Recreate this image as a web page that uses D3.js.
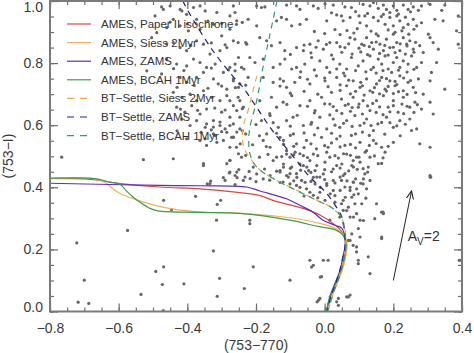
<!DOCTYPE html>
<html>
<head>
<meta charset="utf-8">
<script src="https://cdn.jsdelivr.net/npm/d3@7"></script>
<style>
  body { margin: 0; background: #fff; }
  #chart { width: 474px; height: 353px; }
  text { font-family: "Liberation Sans", Arial, sans-serif; fill: #333; }
  .axis path { display: none; }
  .axis line { stroke: #6e6e6e; stroke-width: 1.2; }
  .axis text { font-size: 14px; fill: #3a3a3a; }
  .axisLabel { font-size: 14px; fill: #3a3a3a; }
  .legend--label { font-size: 11.5px; fill: #333; }
</style>
</head>
<body>
<div id="chart"></div>
<script>
// observed sources, colour (753-770) vs (753-I)
const starsUpperLeft = [
  [-0.475,0.981],[-0.470,0.973],[-0.450,0.984],[-0.421,0.973],[-0.416,0.968],[-0.402,0.957],[-0.382,0.979],[-0.363,0.984],
  [-0.348,0.968],[-0.314,0.963],[-0.266,0.984],[-0.276,0.952],[-0.494,0.952],[-0.441,0.941],[-0.373,0.941],[-0.504,0.882],
  [-0.489,0.898],[-0.460,0.914],[-0.421,0.920],[-0.397,0.904],[-0.363,0.909],[-0.324,0.925],[-0.300,0.888],[-0.276,0.909],
  [-0.256,0.936],[-0.441,0.866],[-0.421,0.850],[-0.402,0.840],[-0.373,0.872],[-0.353,0.861],[-0.334,0.829],[-0.305,0.840],
  [-0.285,0.850],[-0.266,0.872],[-0.251,0.818],[-0.460,0.813],[-0.431,0.797],[-0.402,0.791],[-0.382,0.813],[-0.363,0.802],
  [-0.344,0.786],[-0.319,0.797],[-0.295,0.770],[-0.276,0.786],[-0.261,0.797],[-0.475,0.765],[-0.518,0.775],[-0.421,0.754],
  [-0.402,0.738],[-0.373,0.754],[-0.353,0.770],[-0.324,0.749],[-0.310,0.733],[-0.285,0.716],[-0.266,0.749],[-0.251,0.722],
  [-0.441,0.706],[-0.416,0.690],[-0.392,0.700],[-0.373,0.679],[-0.353,0.711],[-0.329,0.690],[-0.305,0.679],[-0.285,0.695],
  [-0.266,0.663],[-0.247,0.679],[-0.431,0.658],[-0.407,0.642],[-0.387,0.663],[-0.363,0.636],[-0.344,0.652],[-0.324,0.615],
  [-0.300,0.642],[-0.276,0.626],[-0.256,0.647],[-0.416,0.620],[-0.392,0.599],[-0.373,0.615],[-0.348,0.593],[-0.324,0.572],
  [-0.305,0.599],[-0.285,0.577],[-0.266,0.561],[-0.247,0.588],[-0.402,0.556],[-0.363,0.551],[-0.344,0.535],[-0.314,0.545],
  [-0.276,0.529],[-0.251,0.508],[-0.766,0.497],[-0.528,0.489],[-0.441,0.492],[-0.353,0.470],[-0.285,0.476],[-0.276,0.449],
  [-0.344,0.604],[-0.324,0.594],[-0.305,0.610],[-0.290,0.588],[-0.276,0.599],[-0.256,0.578],[-0.348,0.556],[-0.319,0.567],
  [-0.295,0.551],[-0.266,0.562],[-0.246,0.540],[-0.353,0.476],[-0.276,0.487],[-0.256,0.449],[-0.237,0.422],[-0.217,0.428],
  [-0.290,0.422],[-0.334,0.412],
  [-0.450,0.932],[-0.400,0.926],[-0.340,0.935],[-0.300,0.928],[-0.240,0.931],[-0.460,0.862],[-0.390,0.857],[-0.330,0.865],
  [-0.290,0.859],[-0.230,0.866],[-0.440,0.782],[-0.410,0.776],[-0.330,0.784],[-0.280,0.778],[-0.235,0.781],[-0.430,0.722],
  [-0.380,0.728],[-0.340,0.719],[-0.300,0.726],[-0.260,0.721],[-0.230,0.729],[-0.420,0.652],[-0.370,0.648],[-0.320,0.655],
  [-0.290,0.649],[-0.240,0.653],[-0.430,0.582],[-0.360,0.577],[-0.330,0.585],[-0.300,0.579],[-0.240,0.583]
];

const starsUpperRight = [
  [-0.261,0.963],[-0.198,0.984],[-0.184,0.979],[-0.174,0.981],[-0.111,0.987],[-0.082,0.984],[-0.072,0.973],[-0.033,0.984],
  [-0.019,0.976],[0.001,0.991],[0.025,0.987],[0.059,0.981],[0.078,0.979],[0.112,0.989],[0.132,0.984],[0.142,0.995],
  [0.156,0.976],[0.171,0.987],[0.180,0.973],[0.200,0.984],[0.210,0.970],[0.229,0.987],[0.243,0.973],[0.258,0.981],
  [0.273,0.970],[0.282,0.984],[0.307,0.989],[0.341,0.970],[0.350,0.987],[0.389,0.952],
  [-0.223,0.941],[-0.198,0.920],[-0.257,0.925],[-0.140,0.936],[-0.126,0.947],[-0.111,0.941],[-0.096,0.920],[-0.072,0.925],
  [-0.053,0.941],[0.006,0.936],[0.049,0.952],[0.054,0.936],[0.074,0.947],[0.103,0.930],[0.117,0.952],[0.122,0.920],
  [0.142,0.947],[0.156,0.936],[0.171,0.957],[0.176,0.925],[0.190,0.947],[0.200,0.920],[0.210,0.952],[0.219,0.936],
  [0.229,0.914],[0.243,0.925],[0.258,0.941],[0.268,0.920],[0.282,0.930],[0.302,0.893],[0.321,0.941],[0.345,0.936],[0.384,0.904],
  [-0.252,0.866],[-0.227,0.861],[-0.189,0.882],[-0.169,0.872],[-0.155,0.856],[-0.130,0.866],[-0.116,0.840],[-0.082,0.850],
  [-0.062,0.840],[-0.043,0.861],[-0.019,0.872],[-0.004,0.845],[0.015,0.866],[0.035,0.866],[0.059,0.850],[0.074,0.882],
  [0.088,0.877],[0.108,0.861],[0.122,0.882],[0.137,0.866],[0.142,0.845],[0.156,0.888],[0.161,0.861],[0.171,0.840],
  [0.180,0.877],[0.190,0.850],[0.200,0.893],[0.210,0.866],[0.219,0.840],[0.229,0.882],[0.239,0.861],[0.248,0.872],
  [0.258,0.845],[0.277,0.856],[0.287,0.834],[0.307,0.882],[0.316,0.866],[0.331,0.845],[0.389,0.861],
  [-0.261,0.775],[-0.242,0.786],[-0.218,0.818],[-0.203,0.802],[-0.179,0.813],[-0.150,0.786],[-0.130,0.797],[-0.116,0.813],
  [-0.096,0.781],[-0.082,0.786],[-0.058,0.797],[-0.038,0.818],[-0.014,0.807],[0.006,0.786],[0.025,0.813],[0.044,0.797],
  [0.064,0.781],[0.078,0.818],[0.098,0.791],[0.112,0.807],[0.132,0.823],[0.142,0.786],[0.156,0.813],[0.166,0.797],
  [0.176,0.823],[0.185,0.781],[0.200,0.802],[0.210,0.818],[0.219,0.786],[0.229,0.807],[0.243,0.797],[0.253,0.823],
  [0.268,0.786],[0.282,0.802],[0.326,0.802],[0.311,0.770],
  [-0.266,0.743],[-0.247,0.733],[-0.223,0.754],[-0.179,0.754],[-0.150,0.738],[-0.130,0.749],[-0.111,0.722],[-0.087,0.738],
  [-0.072,0.754],[-0.043,0.733],[-0.024,0.759],[0.001,0.743],[0.035,0.754],[0.059,0.759],[0.064,0.727],[0.083,0.743],
  [0.103,0.722],[0.122,0.749],[0.132,0.711],[0.151,0.733],[0.166,0.754],[0.176,0.716],[0.190,0.743],[0.205,0.727],
  [0.219,0.759],[0.229,0.711],[0.243,0.738],[0.258,0.722],[0.273,0.749],[0.287,0.700],[0.307,0.743],[0.350,0.716],
  [-0.276,0.679],[-0.252,0.690],[-0.237,0.658],[-0.189,0.679],[-0.155,0.690],[-0.140,0.658],[-0.121,0.674],[-0.096,0.695],
  [-0.072,0.663],[-0.043,0.679],[-0.028,0.647],[-0.009,0.690],[0.015,0.668],[0.035,0.647],[0.049,0.684],[0.069,0.668],
  [0.083,0.690],[0.098,0.658],[0.112,0.679],[0.132,0.647],[0.151,0.679],[0.171,0.695],[0.185,0.658],[0.200,0.679],
  [0.214,0.642],[0.229,0.690],[0.248,0.658],[0.263,0.674],[0.282,0.652],[0.307,0.674],[0.316,0.636]
];

const starsCluster = [
  [0.020,0.962],[0.035,0.955],[0.090,0.966],[0.100,0.952],[0.125,0.960],[0.165,0.950],[0.190,0.963],[0.215,0.958],[0.235,0.948],[0.250,0.965],
  [-0.030,0.902],[0.000,0.895],[0.030,0.908],[0.045,0.892],[0.065,0.905],[0.085,0.897],[0.095,0.911],[0.135,0.903],[0.150,0.894],[0.185,0.907],
  [0.205,0.899],[0.225,0.904],[0.245,0.893],[0.260,0.909],
  [-0.060,0.858],[-0.025,0.851],[0.005,0.860],[0.045,0.853],[0.070,0.862],[0.100,0.848],[0.115,0.857],[0.130,0.853],[0.150,0.868],[0.175,0.857],
  [0.200,0.851],[0.220,0.862],[0.240,0.855],[0.265,0.867],
  [-0.100,0.828],[-0.040,0.833],[0.020,0.826],[0.050,0.835],[0.080,0.829],[0.105,0.836],[0.125,0.827],[0.160,0.831],[0.185,0.826],[0.205,0.834],
  [0.235,0.829],[0.260,0.835],
  [-0.070,0.772],[-0.030,0.778],[0.015,0.770],[0.035,0.781],[0.055,0.768],[0.090,0.776],[0.120,0.772],[0.135,0.779],[0.150,0.768],[0.170,0.776],
  [0.195,0.770],[0.215,0.777],[0.240,0.771],[0.260,0.780],
  [-0.120,0.742],[-0.050,0.748],[0.000,0.752],[0.070,0.745],[0.105,0.738],[0.160,0.744],[0.180,0.750],[0.205,0.741],[0.230,0.752],[0.250,0.744],
  [-0.100,0.703],[-0.060,0.709],[-0.020,0.700],[0.020,0.706],[0.045,0.712],[0.075,0.701],[0.090,0.709],[0.115,0.697],[0.140,0.706],[0.160,0.701],
  [0.180,0.710],[0.200,0.702],[0.215,0.708],[0.240,0.699],[0.265,0.705],
  [-0.130,0.726],[0.010,0.724],[0.045,0.730],[0.110,0.727],[0.145,0.721],[0.185,0.725],[0.210,0.731],
  [-0.110,0.667],[-0.050,0.661],[0.000,0.669],[0.025,0.660],[0.060,0.664],[0.080,0.657],[0.100,0.668],[0.125,0.662],[0.140,0.670],[0.160,0.659],
  [0.200,0.663],[0.225,0.668],[0.240,0.661],[0.270,0.666],
  [-0.160,0.637],[-0.080,0.632],[-0.030,0.640],[0.015,0.633],[0.050,0.638],[0.075,0.645],[0.110,0.636],[0.150,0.641],[0.170,0.634],[0.190,0.643],
  [0.230,0.637],[0.260,0.641],
  [-0.200,0.602],[-0.150,0.608],[-0.100,0.597],[-0.040,0.603],[-0.020,0.591],[0.030,0.600],[0.055,0.606],[0.080,0.596],[0.115,0.607],[0.135,0.599],
  [0.155,0.604],[0.190,0.608],[0.210,0.598],[0.235,0.603],
  [-0.230,0.572],[-0.190,0.566],[-0.140,0.574],[-0.100,0.567],[-0.060,0.575],[-0.030,0.569],[0.020,0.574],[0.045,0.565],[0.090,0.572],[0.110,0.578],
  [0.130,0.567],[0.175,0.571],[0.220,0.566],
  [-0.210,0.537],[-0.170,0.531],[-0.120,0.539],[-0.090,0.532],[-0.060,0.528],[-0.040,0.540],[0.000,0.534],[0.020,0.543],[0.045,0.530],[0.075,0.538],
  [0.090,0.527],[0.130,0.535],[0.150,0.541],[0.185,0.532],
  [-0.230,0.503],[-0.190,0.497],[-0.165,0.506],[-0.125,0.499],[-0.090,0.505],[-0.050,0.496],[-0.020,0.502],[0.040,0.494],[0.075,0.503],[0.100,0.497],
  [0.145,0.501],[0.170,0.495],
  [-0.250,0.457],[-0.220,0.451],[-0.175,0.459],[-0.140,0.452],[-0.100,0.461],[-0.070,0.455],[-0.040,0.448],[0.000,0.457],[0.020,0.450],[0.045,0.462],
  [0.070,0.453],[0.095,0.458],[0.125,0.449],
  [-0.200,0.418],[-0.160,0.423],[-0.130,0.416],[-0.090,0.421],[-0.040,0.419],[0.000,0.425],[0.030,0.414],[0.065,0.421],[0.090,0.427],[0.105,0.413],
  [-0.060,0.372],[-0.020,0.366],[0.030,0.373],[0.060,0.368],[0.085,0.376],[0.120,0.365]
];

const starsMiddle = [
  [-0.266,0.604],[-0.247,0.626],[-0.184,0.615],[-0.159,0.631],[-0.135,0.593],[-0.111,0.615],[-0.092,0.626],[-0.062,0.599],
  [-0.038,0.609],[-0.014,0.626],[0.006,0.588],[0.025,0.620],[0.044,0.593],[0.064,0.615],[0.088,0.631],[0.103,0.599],
  [0.122,0.620],[0.142,0.583],[0.166,0.609],[0.180,0.626],[0.200,0.593],[0.219,0.615],[0.248,0.620],[0.268,0.588],[0.277,0.540],
  [-0.271,0.561],[-0.257,0.529],[-0.179,0.551],[-0.159,0.529],[-0.130,0.561],[-0.111,0.518],[-0.082,0.540],[-0.053,0.551],
  [-0.024,0.524],[-0.009,0.561],[0.010,0.529],[0.035,0.556],[0.059,0.535],[0.078,0.567],[0.103,0.545],[0.122,0.518],
  [0.142,0.551],[0.166,0.529],[0.200,0.545],[0.253,0.583],[0.307,0.529],
  [-0.276,0.486],[-0.242,0.497],[-0.208,0.465],[-0.150,0.486],[-0.130,0.454],[-0.101,0.497],[-0.082,0.444],[-0.062,0.470],
  [-0.043,0.486],[-0.028,0.454],[-0.014,0.433],[0.015,0.497],[0.035,0.470],[0.059,0.444],[0.083,0.486],[0.112,0.460],
  [0.132,0.497],[0.156,0.476],[0.307,0.438],
  [-0.169,0.572],[-0.140,0.497],[-0.120,0.465],[-0.101,0.444],[-0.072,0.508],[-0.052,0.465],[-0.023,0.433],[0.006,0.412],
  [0.045,0.433],[0.074,0.390],[0.084,0.465],[0.055,0.508],[-0.120,0.551],[-0.091,0.572],
  [-0.111,0.507],[-0.086,0.513],[-0.062,0.502],[-0.033,0.507],[0.006,0.513],[0.030,0.502],[0.064,0.507],[0.093,0.497],
  [0.118,0.513],[-0.120,0.475],[-0.096,0.465],[-0.072,0.475],[-0.047,0.454],[-0.023,0.470],[0.001,0.481],[0.025,0.459],
  [0.050,0.475],[0.079,0.470],[0.103,0.481],[0.127,0.465],[-0.111,0.438],[-0.081,0.432],[-0.057,0.416],[-0.033,0.432],
  [-0.004,0.443],[0.025,0.422],[0.054,0.438],[0.084,0.416],[0.113,0.427],[-0.101,0.411],[-0.072,0.400],[-0.043,0.384],
  [-0.013,0.400],[0.016,0.379],[0.045,0.390],[0.074,0.400],[0.098,0.379],[0.122,0.395],[0.054,0.358],[0.079,0.368],
  [0.108,0.347],[0.176,0.513],[0.166,0.477],[0.309,0.433]
];

const starsLower = [
  [-0.722,0.221],[-0.700,0.101],[-0.718,0.030],[-0.687,0.026],[-0.574,0.261],[-0.535,0.055],[-0.492,0.129],[-0.469,0.144],
  [-0.473,0.087],[-0.469,0.358],[-0.470,0.003],[-0.410,0.089],[-0.376,0.371],[-0.342,0.411],[-0.332,0.420],[-0.315,0.294],
  [-0.324,0.195],[-0.313,0.345],[-0.303,0.358],[-0.306,0.107],[-0.313,0.049],[-0.278,0.446],[-0.295,0.431],[-0.261,0.409],
  [-0.255,0.431],[-0.446,0.328],
  [-0.218,0.294],[-0.218,0.283],[-0.208,0.144],[-0.234,0.074],[-0.101,0.101],[-0.043,0.165],[-0.033,0.149],[0.010,0.165],
  [-0.009,0.112],[-0.014,0.042],[-0.022,0.031],[0.040,0.042],[0.035,0.031],[0.069,0.047],[0.074,0.229],[0.083,0.213],
  [0.093,0.192],[0.098,0.165],[0.098,0.154],[0.132,0.122],[0.151,0.347],[0.166,0.320],[0.146,0.299],[0.171,0.315],
  [0.166,0.240],[0.307,0.433],[0.394,0.165],[0.015,0.294],[0.044,0.304],[0.054,0.326],[0.074,0.304],[0.093,0.315],
  [0.088,0.347],[0.103,0.294],[0.112,0.411],[0.117,0.443],[0.093,0.395],[0.083,0.417],[0.132,0.422],[0.059,0.401],
  [0.025,0.390],[0.049,0.422],[0.006,0.406],[-0.028,0.411],[-0.067,0.422],[-0.082,0.406],[-0.121,0.417],[-0.106,0.433],
  [-0.159,0.438],[-0.179,0.427],[-0.198,0.443],[-0.232,0.433],[-0.261,0.438],[-0.130,0.449],[-0.053,0.395],[-0.033,0.374],
  [-0.014,0.384],[0.001,0.358],[0.030,0.352],[0.049,0.347],[0.069,0.336],
  [0.064,0.325],[0.084,0.304],[0.113,0.293],[0.098,0.267],[0.079,0.250],[0.103,0.240],[0.069,0.229],[0.093,0.208],
  [0.127,0.176],[-0.004,0.165],[-0.038,0.143],[-0.013,0.111],[-0.018,0.036],[0.016,0.047],[0.064,0.047],[0.074,0.053],
  [0.040,0.020],[0.166,0.235],[0.170,0.320],[0.392,0.165]
];

// model sequences: [colour, magnitude-colour]
const amesPaperII = [[-0.800,0.429],[-0.698,0.427],[-0.655,0.422],[-0.596,0.412],[-0.480,0.401],[-0.363,0.395],[-0.267,0.385],
  [-0.188,0.373],[-0.151,0.358],[-0.063,0.332],[-0.014,0.311],[0.030,0.279],[0.053,0.252],[0.062,0.220],[0.059,0.181],
  [0.050,0.143],[0.033,0.091],[0.015,0.043],[0.004,0.0]];
const amesSiess = [[-0.800,0.429],[-0.669,0.427],[-0.640,0.416],[-0.619,0.397],[-0.596,0.380],[-0.552,0.361],[-0.494,0.342],
  [-0.436,0.329],[-0.363,0.321],[-0.247,0.316],[-0.130,0.306],[-0.014,0.284],[0.036,0.265],[0.056,0.245],[0.065,0.220],
  [0.062,0.181],[0.053,0.139],[0.036,0.088],[0.018,0.043],[0.006,0.0]];
const amesZams = [[-0.800,0.413],[-0.480,0.406],[-0.363,0.405],[-0.227,0.401],[-0.188,0.388],[-0.111,0.363],[-0.072,0.342],
  [-0.034,0.320],[-0.005,0.294],[0.030,0.278],[0.050,0.268],[0.059,0.240],[0.059,0.208],[0.053,0.176],[0.045,0.133],
  [0.030,0.091],[0.015,0.047],[0.006,0.0]];
const amesBcah = [[-0.800,0.429],[-0.669,0.428],[-0.625,0.416],[-0.596,0.410],[-0.579,0.390],[-0.561,0.371],[-0.538,0.352],
  [-0.509,0.332],[-0.486,0.324],[-0.363,0.319],[-0.247,0.316],[-0.101,0.294],[-0.020,0.274],[0.033,0.262],[0.053,0.246],
  [0.062,0.220],[0.059,0.181],[0.050,0.140],[0.033,0.090],[0.015,0.045],[0.005,0.0]];
const btSiess = [[-0.197,0.759],[-0.203,0.737],[-0.223,0.647],[-0.238,0.592],[-0.238,0.541],[-0.227,0.509],[-0.218,0.496],
  [-0.197,0.464],[-0.139,0.422],[-0.081,0.390],[-0.022,0.358],[0.024,0.332],[0.050,0.300],[0.059,0.262],[0.062,0.220],
  [0.056,0.170],[0.045,0.120],[0.027,0.065],[0.009,0.0]];
const btZams = [[-0.413,1.0],[-0.398,0.968],[-0.325,0.839],[-0.256,0.743],[-0.238,0.722],[-0.198,0.657],[-0.159,0.593],
  [-0.130,0.551],[-0.082,0.486],[-0.043,0.433],[0.006,0.380],[0.045,0.316],[0.053,0.294],[0.059,0.246],[0.059,0.204],
  [0.050,0.159],[0.036,0.101],[0.018,0.047],[0.007,0.0]];
const btBcah = [[-0.139,1.0],[-0.159,0.894],[-0.180,0.785],[-0.198,0.679],[-0.218,0.592],[-0.221,0.551],[-0.218,0.509],
  [-0.198,0.465],[-0.140,0.422],[-0.082,0.390],[-0.023,0.358],[0.024,0.332],[0.045,0.310],[0.056,0.268],[0.062,0.220],
  [0.056,0.170],[0.045,0.120],[0.027,0.065],[0.009,0.0]];

const modelNames = ["AMES, Paper II isochrone","AMES, Siess 2Myr","AMES, ZAMS","AMES, BCAH 1Myr",
  "BT\u2212Settle, Siess 2Myr","BT\u2212Settle, ZAMS","BT\u2212Settle, BCAH 1Myr"];
const modelData = [amesPaperII, amesSiess, amesZams, amesBcah, btSiess, btZams, btBcah];
const modelColors = ["#d6483e","#f1b15c","#5b2fbf","#3c9c4c","#eea84a","#1e2080","#2f9c72"];
const modelDashed = [false,false,false,false,true,true,true];

const xTicks = [-0.8,-0.6,-0.4,-0.2,0.0,0.2,0.4];
const yTicks = [0.0,0.2,0.4,0.6,0.8,1.0];
const reddening = [[0.200,0.100],[0.253,0.388]];

const width = 474, height = 353;
const margin = {top: 1, left: 50, right: 12, bottom: 41.5};

const svg = d3.select("#chart").append("svg")
    .attr("width", width).attr("height", height);

const xScale = d3.scaleLinear().domain([-0.8,0.4]).range([margin.left, width-margin.right]);
const yScale = d3.scaleLinear().domain([0,1]).range([height-margin.bottom, margin.top]);

svg.append("clipPath").attr("id","plotclip").append("rect")
    .attr("x", margin.left).attr("y", margin.top)
    .attr("width", width-margin.left-margin.right).attr("height", height-margin.top-margin.bottom);

/* POINTS */
const stars = starsUpperLeft.concat(starsUpperRight, starsCluster, starsMiddle, starsLower);
svg.append("g").attr("clip-path","url(#plotclip)")
    .selectAll("circle").data(stars).enter().append("circle")
    .attr("cx", d => xScale(d[0]))
    .attr("cy", d => yScale(d[1]))
    .attr("r", 1.6)
    .attr("fill", "#666");

/* MODEL LINES */
const lineX = d3.line().x(d => xScale(d[0])).y(d => yScale(d[1])).curve(d3.curveCatmullRom.alpha(0.5));
const lines = svg.append("g").attr("clip-path","url(#plotclip)");
modelData.forEach(function(pts, i) {
    lines.append("path")
        .attr("d", lineX(pts))
        .attr("fill", "none")
        .attr("stroke", modelColors[i])
        .attr("stroke-width", 1.2)
        .attr("stroke-dasharray", modelDashed[i] ? "6,5" : null);
});

/* AXES */
const minorX = d3.range(-0.8, 0.4001, 0.05);
const minorY = d3.range(0, 1.0001, 0.05);
const fmt = d3.format(".1f");
const plotH = height-margin.top-margin.bottom, plotW = width-margin.left-margin.right;

svg.append("g").attr("class","axis").attr("transform",`translate(0,${height-margin.bottom})`)
    .call(d3.axisBottom(xScale).tickValues(xTicks).tickSize(-8).tickPadding(12).tickFormat(fmt));
svg.append("g").attr("class","axis").attr("transform",`translate(0,${height-margin.bottom})`)
    .call(d3.axisBottom(xScale).tickValues(minorX).tickSize(-4).tickFormat(""));
svg.append("g").attr("class","axis").attr("transform",`translate(0,${margin.top})`)
    .call(d3.axisTop(xScale).tickValues(xTicks).tickSize(-8).tickFormat(""));
svg.append("g").attr("class","axis").attr("transform",`translate(0,${margin.top})`)
    .call(d3.axisTop(xScale).tickValues(minorX).tickSize(-4).tickFormat(""));
const yAxis = svg.append("g").attr("class","axis").attr("transform",`translate(${margin.left},0)`)
    .call(d3.axisLeft(yScale).tickValues(yTicks).tickSize(-8).tickPadding(7).tickFormat(fmt));
// end labels nudged inside the frame, as in the original
yAxis.selectAll(".tick text").attr("dy", d => d === 1 ? "0.75em" : (d === 0 ? "0em" : "0.32em"));
svg.append("g").attr("class","axis").attr("transform",`translate(${margin.left},0)`)
    .call(d3.axisLeft(yScale).tickValues(minorY).tickSize(-4).tickFormat(""));
svg.append("g").attr("class","axis").attr("transform",`translate(${width-margin.right},0)`)
    .call(d3.axisRight(yScale).tickValues(yTicks).tickSize(-8).tickFormat(""));
svg.append("g").attr("class","axis").attr("transform",`translate(${width-margin.right},0)`)
    .call(d3.axisRight(yScale).tickValues(minorY).tickSize(-4).tickFormat(""));

svg.append("rect")
    .attr("x", margin.left).attr("y", margin.top)
    .attr("width", plotW).attr("height", plotH)
    .attr("fill","none").attr("stroke","#7a7a7a").attr("stroke-width",2);

/* AXIS LABELS */
svg.append("text").attr("class","axisLabel")
    .attr("x", 256).attr("y", 350).attr("text-anchor","middle")
    .text("(753\u2212770)");
svg.append("text").attr("class","axisLabel")
    .attr("transform","rotate(-90)")
    .attr("x", -156).attr("y", 13).attr("text-anchor","middle")
    .text("(753\u2212I)");

/* REDDENING VECTOR */
svg.append("defs").append("marker")
    .attr("id","arrowhead").attr("viewBox","0 0 10 10").attr("refX",9).attr("refY",5)
    .attr("markerWidth",9).attr("markerHeight",9).attr("orient","auto")
    .append("path").attr("d","M0,1 L9,5 L0,9").attr("fill","none").attr("stroke","#222").attr("stroke-width",1.2);
svg.append("line")
    .attr("x1", xScale(reddening[0][0])).attr("y1", yScale(reddening[0][1]))
    .attr("x2", xScale(reddening[1][0])).attr("y2", yScale(reddening[1][1]))
    .attr("stroke","#222").attr("stroke-width",1)
    .attr("marker-end","url(#arrowhead)");
const av = svg.append("text").attr("x", xScale(0.242)).attr("y", yScale(0.226)).style("font-size","14px");
av.append("tspan").text("A");
av.append("tspan").attr("dy",4).style("font-size","10px").text("V");
av.append("tspan").attr("dy",-4).text("=2");

/* LEGEND */
const legendTop = 24, legendSpacing = 18.6;
modelNames.forEach(function(name, i) {
    const yy = legendTop + i*legendSpacing;
    svg.append("line")
        .attr("x1", 67).attr("x2", 91).attr("y1", yy).attr("y2", yy)
        .attr("stroke", modelColors[i]).attr("stroke-width", 1.2)
        .attr("stroke-dasharray", modelDashed[i] ? "7,6" : null);
    svg.append("text").attr("class","legend--label")
        .attr("x", 101).attr("y", yy+4)
        .text(name);
});
</script>
</body>
</html>
